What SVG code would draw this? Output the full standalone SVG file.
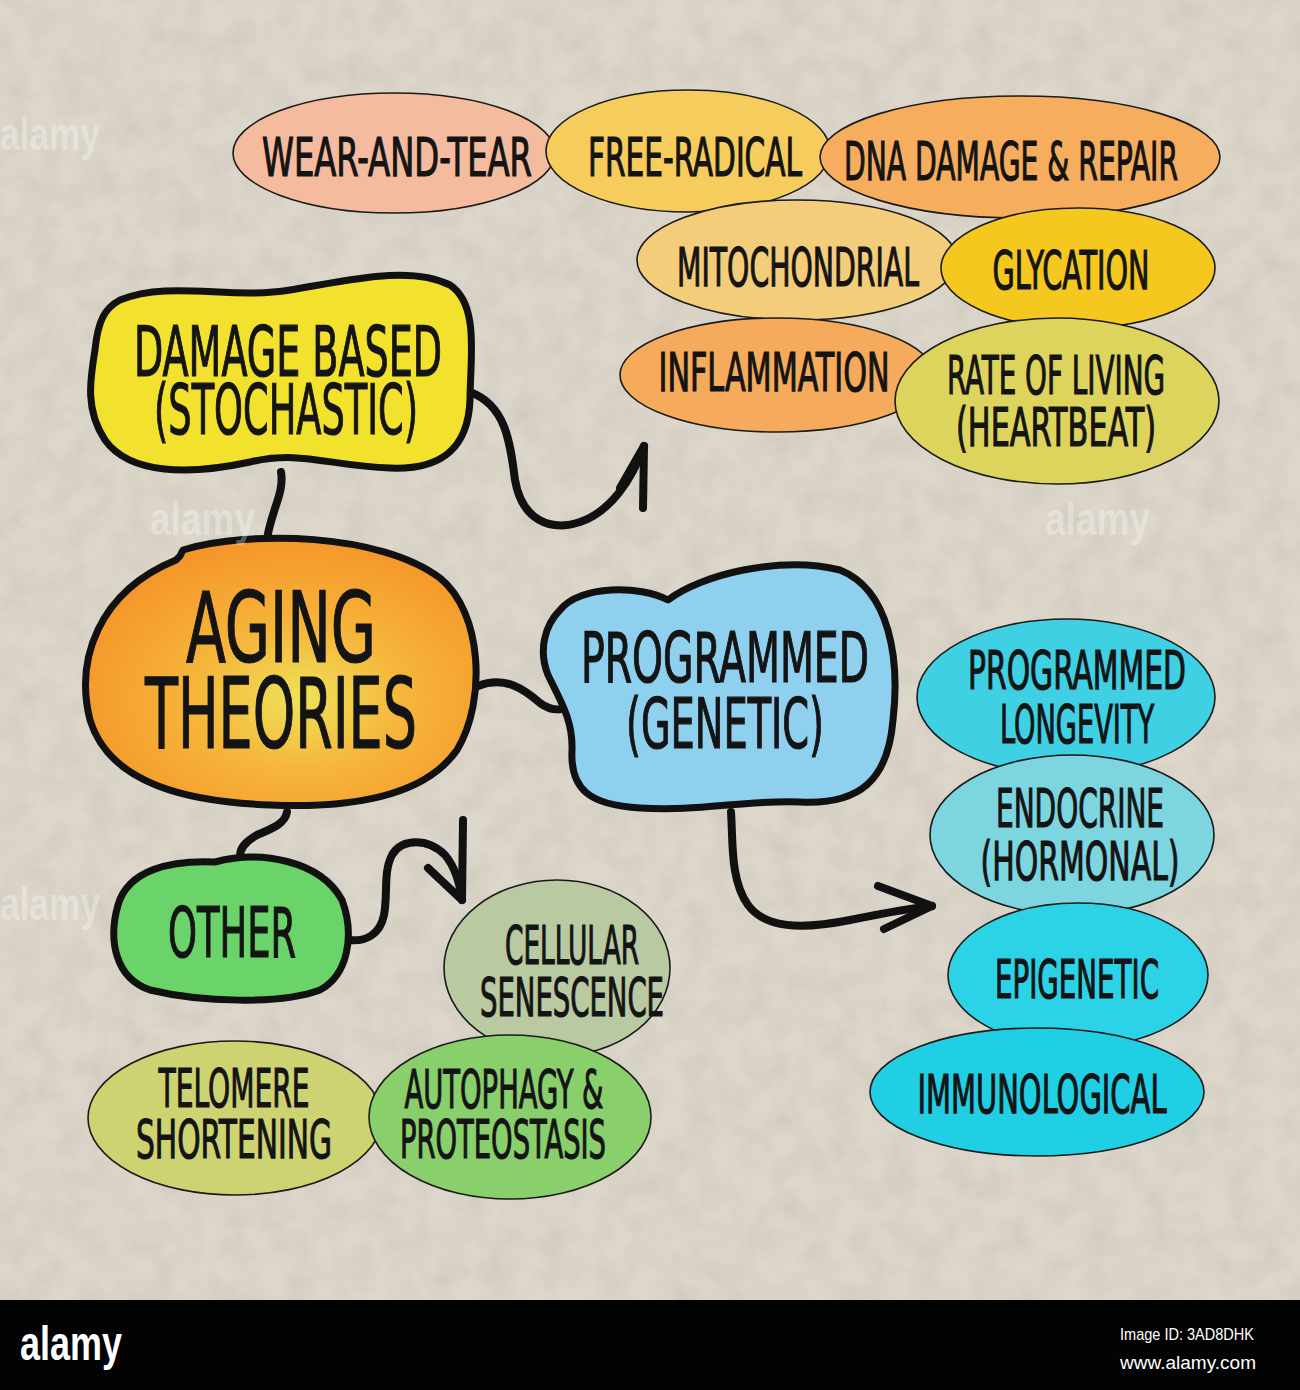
<svg xmlns="http://www.w3.org/2000/svg" width="1300" height="1390" viewBox="0 0 1300 1390">
<defs>
<filter id="paper" x="0" y="0" width="100%" height="100%">
<feTurbulence type="fractalNoise" baseFrequency="0.035" numOctaves="4" seed="7"/>
<feColorMatrix type="matrix" values="0 0 0 0 0.45  0 0 0 0 0.42  0 0 0 0 0.36  0 0 0 0.9 -0.3"/>
</filter>
<radialGradient id="agingFill" cx="0.55" cy="0.6" r="0.6">
<stop offset="0" stop-color="#eee25a"/>
<stop offset="0.45" stop-color="#f6b53a"/>
<stop offset="1" stop-color="#f5962a"/>
</radialGradient>
<style>
.ell{stroke:#1a1a1a;stroke-width:1.6}
.blob{stroke:#111;stroke-width:7;stroke-linejoin:round}
.lbl{font-family:"Liberation Sans Narrow","DejaVu Sans Condensed","Liberation Sans",sans-serif;font-weight:normal;fill:#141414;text-anchor:middle;stroke:#141414;stroke-width:1.2}
.s{font-size:54px}
.b{font-size:70px}
.xl{font-size:98px}
.con{fill:none;stroke:#111;stroke-width:8;stroke-linecap:round;stroke-linejoin:round}
.wm{font-family:"Liberation Sans Narrow","Liberation Sans",sans-serif;font-weight:bold;fill:#ffffff;opacity:0.3}
</style>
</defs>
<rect x="0" y="0" width="1300" height="1300" fill="#ddd7cb"/>
<rect x="0" y="0" width="1300" height="1300" filter="url(#paper)" opacity="0.5"/>

<g id="connectors">
<path class="con" d="M281,472 C285,495 268,515 266,548"/>
<path class="con" d="M470,392 C505,405 510,440 515,480 C522,520 550,532 580,522 C610,512 632,480 644,446"/>
<path class="con" d="M644,446 L620,488 M644,446 L643,508"/>
<path class="con" d="M478,686 C505,675 525,690 540,703 C552,712 562,710 575,706"/>
<path class="con" d="M731,812 C733,840 730,880 748,905 C765,928 800,930 850,920 C885,913 910,908 932,906"/>
<path class="con" d="M932,906 L878,886 M932,906 L884,929"/>
<path class="con" d="M287,812 C285,825 268,830 257,835 C245,842 240,848 240,856"/>
<path class="con" d="M349,940 C365,942 380,935 384,915 C388,895 383,872 392,855 C402,838 428,838 445,855 C456,868 460,885 462,900"/>
<path class="con" d="M462,900 L463,820 M462,900 L428,868"/>
</g>

<g id="node-wear"><ellipse class="ell" cx="394" cy="153" rx="161" ry="60" fill="#f4bb9e"/><text class="lbl s" x="397" y="176" textLength="270" lengthAdjust="spacingAndGlyphs">WEAR-AND-TEAR</text></g>
<g id="node-free"><ellipse class="ell" cx="688" cy="151" rx="142" ry="61" fill="#f6cd5c"/><text class="lbl s" x="695" y="176" textLength="214" lengthAdjust="spacingAndGlyphs">FREE-RADICAL</text></g>
<g id="node-dna"><ellipse class="ell" cx="1020" cy="157" rx="200" ry="61" fill="#f6ae5e"/><text class="lbl s" x="1011" y="180" textLength="334" lengthAdjust="spacingAndGlyphs">DNA DAMAGE &amp; REPAIR</text></g>
<g id="node-mito"><ellipse class="ell" cx="797" cy="260" rx="160" ry="60" fill="#f4cd7a"/><text class="lbl s" x="798" y="286" textLength="242" lengthAdjust="spacingAndGlyphs">MITOCHONDRIAL</text></g>
<g id="node-gly"><ellipse class="ell" cx="1078" cy="268" rx="137" ry="60" fill="#f5c820"/><text class="lbl s" x="1071" y="289" textLength="157" lengthAdjust="spacingAndGlyphs">GLYCATION</text></g>
<g id="node-infl"><ellipse class="ell" cx="777" cy="375" rx="157" ry="57" fill="#f5aa5c"/><text class="lbl s" x="774" y="391" textLength="231" lengthAdjust="spacingAndGlyphs">INFLAMMATION</text></g>
<g id="node-rate"><ellipse class="ell" cx="1057" cy="401" rx="162" ry="83" fill="#ddd45e"/><text class="lbl s" x="1056" y="394" textLength="218" lengthAdjust="spacingAndGlyphs">RATE OF LIVING</text><text class="lbl s" x="1056" y="446" textLength="200" lengthAdjust="spacingAndGlyphs">(HEARTBEAT)</text></g>

<g id="node-damage"><path class="blob" fill="#f2e22e" d="M120,300 C170,280 230,300 290,290 C350,280 410,265 450,285 C480,305 470,360 470,400 C468,450 440,470 390,468 C330,466 300,450 250,462 C190,475 130,475 105,440 C85,410 90,380 95,350 C98,320 105,308 120,300 Z"/><text class="lbl b" x="288" y="376" textLength="308" lengthAdjust="spacingAndGlyphs">DAMAGE BASED</text><text class="lbl b" x="286" y="434" textLength="264" lengthAdjust="spacingAndGlyphs">(STOCHASTIC)</text></g>

<g id="node-aging"><path class="blob" fill="url(#agingFill)" d="M183,550 C250,530 380,533 440,578 C482,612 487,700 457,750 C422,800 340,808 270,805 C190,802 110,785 90,720 C75,660 98,592 176,560 L180,556 Z"/><text class="lbl xl" x="281" y="662" textLength="190" lengthAdjust="spacingAndGlyphs">AGING</text><text class="lbl xl" x="281" y="748" textLength="272" lengthAdjust="spacingAndGlyphs">THEORIES</text></g>

<g id="node-programmed"><path class="blob" fill="#8fd0ef" d="M560,610 C580,585 640,585 668,600 C700,575 780,555 840,570 C890,590 900,660 893,720 C888,780 860,805 800,802 C740,800 700,812 640,808 C590,805 570,790 572,750 C573,720 560,700 548,675 C538,650 545,625 560,610 Z"/><text class="lbl b" x="725" y="682" textLength="288" lengthAdjust="spacingAndGlyphs">PROGRAMMED</text><text class="lbl b" x="725" y="748" textLength="198" lengthAdjust="spacingAndGlyphs">(GENETIC)</text></g>

<g id="node-other"><path class="blob" fill="#6ad36a" d="M215,862 C260,850 320,860 342,900 C355,935 348,975 320,990 C280,1005 200,1002 150,990 C115,978 108,940 118,905 C128,870 170,860 215,862 Z"/><text class="lbl b" x="232" y="957" textLength="128" lengthAdjust="spacingAndGlyphs">OTHER</text></g>

<g id="node-cell"><ellipse class="ell" cx="557" cy="968" rx="113" ry="88" fill="#b9c9a2"/><text class="lbl s" x="572" y="964" textLength="134" lengthAdjust="spacingAndGlyphs">CELLULAR</text><text class="lbl s" x="572" y="1016" textLength="184" lengthAdjust="spacingAndGlyphs">SENESCENCE</text></g>
<g id="node-telo"><ellipse class="ell" cx="235" cy="1118" rx="147" ry="77" fill="#ced372"/><text class="lbl s" x="234" y="1107" textLength="151" lengthAdjust="spacingAndGlyphs">TELOMERE</text><text class="lbl s" x="234" y="1158" textLength="196" lengthAdjust="spacingAndGlyphs">SHORTENING</text></g>
<g id="node-auto"><ellipse class="ell" cx="510" cy="1117" rx="141" ry="82" fill="#89d06c"/><text class="lbl s" x="504" y="1108" textLength="199" lengthAdjust="spacingAndGlyphs">AUTOPHAGY &amp;</text><text class="lbl s" x="503" y="1158" textLength="206" lengthAdjust="spacingAndGlyphs">PROTEOSTASIS</text></g>

<g id="node-longevity"><ellipse class="ell" cx="1066" cy="697" rx="149" ry="78" fill="#3fd0e4"/><text class="lbl s" x="1077" y="689" textLength="218" lengthAdjust="spacingAndGlyphs">PROGRAMMED</text><text class="lbl s" x="1077" y="743" textLength="154" lengthAdjust="spacingAndGlyphs">LONGEVITY</text></g>
<g id="node-endo"><ellipse class="ell" cx="1072" cy="835" rx="142" ry="80" fill="#7dd5e0"/><text class="lbl s" x="1080" y="827" textLength="168" lengthAdjust="spacingAndGlyphs">ENDOCRINE</text><text class="lbl s" x="1080" y="880" textLength="199" lengthAdjust="spacingAndGlyphs">(HORMONAL)</text></g>
<g id="node-epi"><ellipse class="ell" cx="1078" cy="975" rx="130" ry="72" fill="#2cd3e6"/><text class="lbl s" x="1077" y="998" textLength="164" lengthAdjust="spacingAndGlyphs">EPIGENETIC</text></g>
<g id="node-immu"><ellipse class="ell" cx="1037" cy="1092" rx="167" ry="64" fill="#20cfe3"/><text class="lbl s" x="1042" y="1113" textLength="249" lengthAdjust="spacingAndGlyphs">IMMUNOLOGICAL</text></g>

<g id="watermarks">
<text class="wm" x="0" y="150" font-size="46" textLength="100" lengthAdjust="spacingAndGlyphs">alamy</text>
<text class="wm" x="1045" y="535" font-size="46" textLength="105" lengthAdjust="spacingAndGlyphs">alamy</text>
<text class="wm" x="150" y="535" font-size="46" textLength="105" lengthAdjust="spacingAndGlyphs">alamy</text>
<text class="wm" x="0" y="920" font-size="46" textLength="100" lengthAdjust="spacingAndGlyphs">alamy</text>
</g>

<g id="footer">
<rect x="0" y="1300" width="1300" height="90" fill="#030303"/>
<text x="20" y="1360" font-family="Liberation Sans Narrow,Liberation Sans,sans-serif" font-weight="bold" font-size="48" fill="#ffffff" textLength="102" lengthAdjust="spacingAndGlyphs">alamy</text>
<text x="1120" y="1340" font-family="Liberation Sans Narrow,Liberation Sans,sans-serif" font-size="17" fill="#ffffff" textLength="134" lengthAdjust="spacingAndGlyphs">Image ID: 3AD8DHK</text>
<text x="1120" y="1369" font-family="Liberation Sans Narrow,Liberation Sans,sans-serif" font-size="19" fill="#ffffff" textLength="136" lengthAdjust="spacingAndGlyphs">www.alamy.com</text>
</g>
</svg>
